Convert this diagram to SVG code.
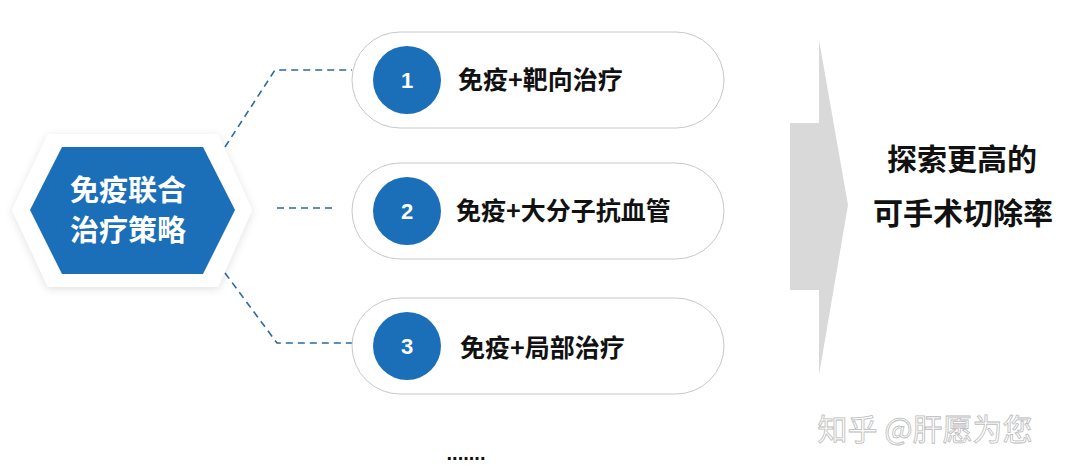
<svg xmlns="http://www.w3.org/2000/svg" width="1067" height="476" viewBox="0 0 1067 476">
<defs>
<filter id="sh" x="-20%" y="-20%" width="140%" height="140%"><feDropShadow dx="0" dy="2" stdDeviation="4" flood-color="#000" flood-opacity="0.12"/></filter>
</defs>
<style>
.pill{fill:#fff;stroke:#c8c8c8;stroke-width:1}
.num{fill:#1a6fb8}
.nt{font-family:"Liberation Sans",sans-serif;font-weight:bold;font-size:22px;fill:#fff;text-anchor:middle}
.lb{font-family:"Noto Sans CJK SC",sans-serif;font-weight:bold;font-size:25px;fill:#111}
.cn{fill:none;stroke:#2a6a9a;stroke-width:1.6;stroke-dasharray:7 5}
</style>
<rect width="1067" height="476" fill="#fff"/>
<g id="connectors">
<polyline class="cn" points="225,147 275,70 352,70"/>
<line class="cn" x1="277" y1="208" x2="335" y2="208"/>
<polyline class="cn" points="225,273 277,343 352,343"/>
</g>
<g id="center">
<polygon points="12,210 48,134 218,134 252,210 218,287 48,287" fill="#fff" filter="url(#sh)"/>
<polygon points="30,210 62,147 203,147 235,210 203,274 62,274" fill="#1a6fb8"/>
<text class="nt" style="font-family:'Noto Sans CJK SC',sans-serif;font-size:29px" x="128" y="201">免疫联合</text>
<text class="nt" style="font-family:'Noto Sans CJK SC',sans-serif;font-size:29px" x="128" y="241">治疗策略</text>
</g>
<g id="n1">
<rect class="pill" x="352" y="32" width="372" height="96" rx="48"/>
<circle class="num" cx="407" cy="80" r="34"/>
<text class="nt" x="407" y="88">1</text>
<text class="lb" x="458" y="89">免疫+靶向治疗</text>
</g>
<g id="n2">
<rect class="pill" x="352" y="163" width="372" height="96" rx="48"/>
<circle class="num" cx="407" cy="211" r="34"/>
<text class="nt" x="407" y="219">2</text>
<text class="lb" x="456" y="220">免疫+大分子抗血管</text>
</g>
<g id="n3">
<rect class="pill" x="352" y="298" width="372" height="96" rx="48"/>
<circle class="num" cx="407" cy="346" r="34"/>
<text class="nt" x="407" y="354">3</text>
<text class="lb" x="460" y="357">免疫+局部治疗</text>
</g>
<g id="arrow">
<polygon points="790,123 819,123 819,40 848,205 819,375 819,290 790,290" fill="#d9d9d9"/>
</g>
<g id="result">
<text class="lb" style="font-size:30px" x="962" y="170" text-anchor="middle">探索更高的</text>
<text class="lb" style="font-size:30px" x="963" y="224" text-anchor="middle">可手术切除率</text>
</g>
<text x="466" y="460" text-anchor="middle" style="font-family:'Liberation Sans',sans-serif;font-weight:bold;font-size:20px;fill:#111">.......</text>
<text x="925" y="440" text-anchor="middle" style="font-family:'Noto Sans CJK SC',sans-serif;font-size:30px;fill:#fff;stroke:#bbb;stroke-width:0.8">知乎 @肝愿为您</text>
</svg>
